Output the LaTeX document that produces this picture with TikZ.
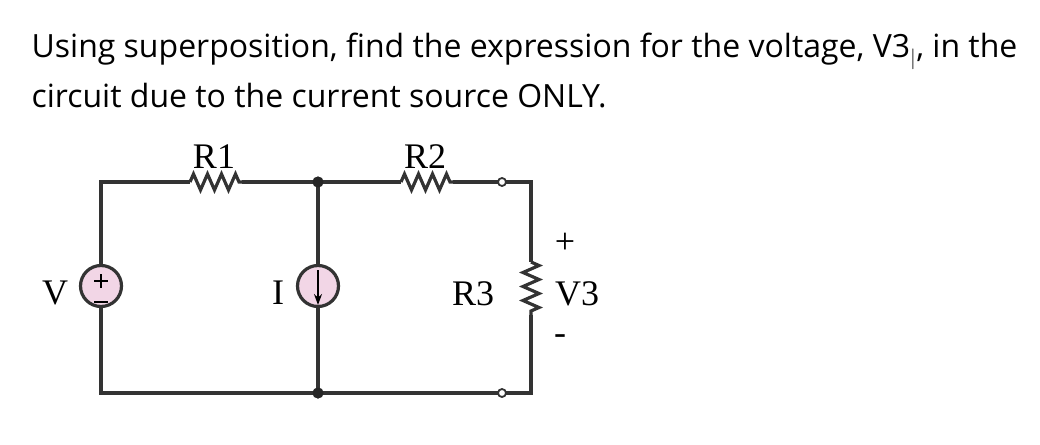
\documentclass[tikz,border=0pt]{standalone}
\usepackage{fontspec}
\setmainfont{Liberation Serif}
\newfontfamily\titlefont{Open Sans}
\usetikzlibrary{decorations.pathmorphing,arrows.meta}
\definecolor{srcpink}{RGB}{242,214,230}
\begin{document}
\begin{tikzpicture}[x=1pt,y=-1pt,line width=3.2pt]
        \tikzstyle{wire}=[draw=black!80]
        \tikzstyle{res}=[draw=black!80,decorate,decoration={zigzag,segment length=14pt,amplitude=8pt}]
        \tikzstyle{src}=[circle,draw=black!80,fill=srcpink,minimum size=41pt,inner sep=0pt,outer sep=0pt]
        \tikzstyle{dot}=[circle,fill=black!85,minimum size=11pt,inner sep=0pt]
        \tikzstyle{term}=[circle,draw=black!80,fill=white,line width=1.8pt,minimum size=8pt,inner sep=0pt]
        \tikzstyle{lbl}=[font=\fontsize{36}{36}\selectfont,inner sep=0pt]
        \useasboundingbox (0,0) rectangle (1040,444);
        % question text
        \node[anchor=base west,inner sep=0pt,font=\titlefont\fontsize{32}{32}\selectfont] (line_1) at (30,58) {Using superposition, find the expression for the voltage, V3$_{|}$, in the};
        \node[anchor=base west,inner sep=0pt,font=\titlefont\fontsize{32}{32}\selectfont] (line_2) at (30,107) {circuit due to the current source ONLY.};
        % corners and junctions
        \coordinate (top_left) at (101,182);
        \coordinate (bot_left) at (101,393);
        \coordinate (top_right) at (531,182);
        \coordinate (bot_right) at (531,393);
        \coordinate (r1_a) at (190,182);
        \coordinate (r1_b) at (242,182);
        \coordinate (r2_a) at (401,182);
        \coordinate (r2_b) at (453,182);
        \coordinate (r3_a) at (531,262);
        \coordinate (r3_b) at (531,315);
        \node[src] (src_v) at (101,286) {};
        \node[src] (src_i) at (318,286) {};
        \node[dot] (node_top) at (318,182) {};
        \node[dot] (node_bot) at (318,393) {};
        % wires
        \draw[wire] (src_v.north) -- (top_left) -- (r1_a);
        \draw[res] (r1_a) -- (r1_b);
        \draw[wire] (r1_b) -- (node_top.center) -- (r2_a);
        \draw[res] (r2_a) -- (r2_b);
        \draw[wire] (r2_b) -- (top_right) -- (r3_a);
        \draw[res] (r3_a) -- (r3_b);
        \draw[wire] (r3_b) -- (bot_right) -- (node_bot.center) -- (bot_left) -- (src_v.south);
        \draw[wire] (node_top.center) -- (src_i.north);
        \draw[wire] (src_i.south) -- (node_bot.center);
        \node[dot] at (node_top) {};
        \node[dot] at (node_bot) {};
        \node[term] (term_top) at (502,182) {};
        \node[term] (term_bot) at (502,393) {};
        % source symbols
        \draw[line width=1.4pt] (101,274) -- (101,288) (94,281) -- (108,281) (94,302) -- (108,302);
        \draw[line width=1.5pt,-{Stealth[length=11pt,width=8pt]}] (318,270) -- (318,305);
        % labels
        \node[lbl] (lbl_r1) at (214,157) {R1};
        \node[lbl] (lbl_r2) at (425,157) {R2};
        \node[lbl] (lbl_v) at (55,293) {V};
        \node[lbl] (lbl_i) at (278,293) {I};
        \node[lbl] (lbl_r3) at (473,294) {R3};
        \node[lbl] (lbl_v3) at (577,294) {V3};
        \node[lbl] (lbl_plus) at (565,243) {+};
        \node[lbl] (lbl_minus) at (560,340) {-};
\end{tikzpicture}
\end{document}
